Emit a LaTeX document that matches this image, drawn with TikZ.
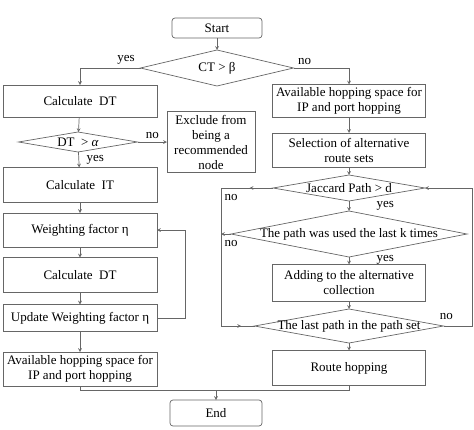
\documentclass[tikz,border=0pt]{standalone}
\usepackage{fontspec}
\setmainfont{Liberation Serif}
\usetikzlibrary{shapes.geometric,decorations.markings}

\tikzset{
  box/.style={draw=black!60, line width=0.7pt, align=center, inner sep=1pt, outer sep=0pt},
  lbox/.style={box, minimum width=154},
  rbox/.style={box, minimum width=153},
  term/.style={box, rounded corners=3pt, minimum width=90, minimum height=20},
  decision/.style 2 args={draw=black!60, line width=0.7pt, diamond, inner sep=0pt,
    outer sep=0pt, minimum width=#1, minimum height=#2},
  line/.style={draw=black!60, line width=0.7pt},
  midarrow/.style={postaction={decorate},
    decoration={markings, mark=at position #1 with {\arrow{stealth}}}},
}

\begin{document}
\begin{tikzpicture}[>=stealth, x=1pt, y=-1pt,
    font=\fontsize{13}{15}\selectfont]
    \useasboundingbox (0,0) rectangle (474,429);

    % terminals
    \node[term] (start) at (217,28) {Start};
    \node[term, minimum width=92, minimum height=26] (end) at (216,413) {End};

    % first decision
    \node[decision={153}{36}, label=center:{CT > β}] (ct) at (217,68) {};

    % left branch
    \node[lbox, minimum height=32] (calcdt) at (80,101) {Calculate~~DT};
    \node[decision={119}{20}, label=center:{DT~~> \textit{α}}] (dta) at (78,142) {};
    \node[box, minimum width=88, minimum height=61] (excl) at (211,142)
      {Exclude from\\being a\\recommended\\node};
    \node[lbox, minimum height=35] (calcit) at (80,185) {Calculate~~IT};
    \node[lbox, minimum height=34] (weight) at (80,230) {Weighting factor η};
    \node[lbox, minimum height=35] (calcdt2) at (80,275) {Calculate~~DT};
    \node[lbox, minimum height=27] (update) at (80,318) {Update Weighting factor η};
    \node[lbox, minimum height=34] (avail1) at (80,369)
      {Available hopping space for\\IP and port hopping};

    % right branch
    \node[rbox, minimum height=33] (avail2) at (349,101)
      {Available hopping space for\\IP and port hopping};
    \node[rbox, minimum height=34] (select) at (349,150)
      {Selection of alternative\\route sets};
    \node[decision={152}{26}, label=center:{Jaccard Path > d}] (jac) at (349,188) {};
    \node[decision={236}{46}, label=center:{The path was used the last k times}] (used) at (349,234) {};
    \node[rbox, minimum height=37] (adding) at (349,283)
      {Adding to the alternative\\collection};
    \node[decision={189}{34}, label=center:{The last path in the path set}] (last) at (349,326) {};
    \node[rbox, minimum height=35] (route) at (349,368) {Route hopping};

    \coordinate (lb1) at (221,188);
    \coordinate (lb3) at (221,326);
    \coordinate (rb) at (472,326);
    \coordinate (join) at (216,390);

    % connectors
    \draw[line,->] (start) -- (ct);
    \draw[line,->] (ct.west) -| node[pos=0.12, above]{yes} (calcdt.north);
    \draw[line,->] (ct.east) -| node[pos=0.1, above]{no} (avail2.north);

    \draw[line,->] (calcdt) -- (dta);
    \draw[line,->] (dta.east) -- node[above]{no} (excl.west);
    \draw[line,->] (dta) -- node[right=4pt]{yes} (calcit);
    \draw[line,->] (calcit) -- (weight);
    \draw[line,->] (weight) -- (calcdt2);
    \draw[line,->] (calcdt2) -- (update);
    \draw[line,->] (update) -- (avail1);
    \draw[line,->] (update.east) -- ++(28,0) |- (weight.east);

    \draw[line,->] (avail2) -- (select);
    \draw[line,->] (select) -- (jac);
    \draw[line,->] (jac) -- node[right=24pt]{yes} (used);
    \draw[line,->] (used) -- node[right=24pt, yshift=1pt]{yes} (adding);
    \draw[line,->] (adding) -- (last);
    \draw[line,->] (last) -- (route);

    \draw[line, midarrow=0.45] (jac.west) -- (lb1)
      node[below right, yshift=-3pt]{no};
    \draw[line,->] (used.west) -- (used.west -| lb1)
      node[below right, yshift=-3pt]{no};
    \draw[line] (lb1) -- (lb3);
    \draw[line, midarrow=0.6] (lb3) -- (last.west);
    \draw[line,->] (last.east) -- node[above=3pt, pos=0.1]{no} (rb) |- (jac.east);

    \draw[line] (avail1.south) |- (join);
    \draw[line] (route.south) |- (join);
    \draw[line,->] (join) -- (end.north);
\end{tikzpicture}
\end{document}
